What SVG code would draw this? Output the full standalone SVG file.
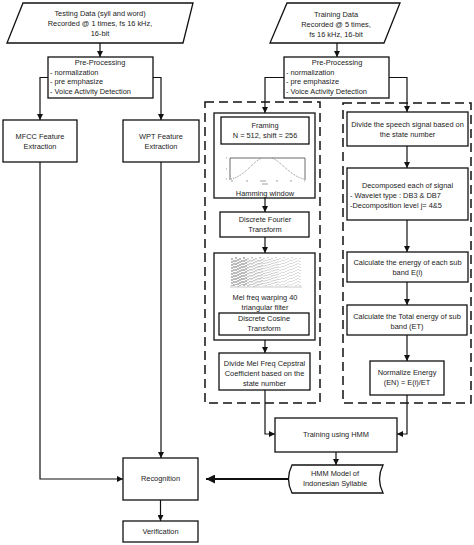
<svg xmlns="http://www.w3.org/2000/svg" width="474" height="545" viewBox="0 0 474 545">
<defs>
<style>
text{font-family:"Liberation Sans",Arial,sans-serif;font-size:7.4px;fill:#222;}
.c{text-anchor:middle;}
.box{fill:#fff;stroke:#111;stroke-width:1.3;}
.ln{fill:none;stroke:#111;stroke-width:1.2;}
.dash{fill:none;stroke:#111;stroke-width:1.5;stroke-dasharray:9,5;}
</style>
<marker id="ah" viewBox="0 0 10 10" refX="10" refY="5" markerWidth="6" markerHeight="6" markerUnits="userSpaceOnUse" orient="auto"><path d="M0,0 L10,5 L0,10 Z" fill="#111"/></marker>
<marker id="ahb" viewBox="0 0 10 10" refX="10" refY="5" markerWidth="9" markerHeight="9" markerUnits="userSpaceOnUse" orient="auto"><path d="M0,0 L10,5 L0,10 Z" fill="#111"/></marker>
</defs>

<g id="regions">
<rect class="dash" x="205" y="102" width="115" height="301"/>
<rect class="dash" x="343" y="103" width="128" height="300"/>
</g>

<g id="connectors">
<path class="ln" d="M100,43 V57" marker-end="url(#ah)"/>
<path class="ln" d="M48,77.5 H40 V120" marker-end="url(#ah)"/>
<path class="ln" d="M153,77.5 H161 V120" marker-end="url(#ah)"/>
<path class="ln" d="M40,162 V479 H123" marker-end="url(#ah)"/>
<path class="ln" d="M161,162 V458" marker-end="url(#ah)"/>
<path class="ln" d="M160.5,500 V521" marker-end="url(#ah)"/>
<path class="ln" d="M337,43 V57" marker-end="url(#ah)"/>
<path class="ln" d="M284,77.5 H265 V113" marker-end="url(#ah)"/>
<path class="ln" d="M389,77.5 H407 V112" marker-end="url(#ah)"/>
<path class="ln" d="M265,198 V212" marker-end="url(#ah)"/>
<path class="ln" d="M265,237 V253" marker-end="url(#ah)"/>
<path class="ln" d="M265,340 V353" marker-end="url(#ah)"/>
<path class="ln" d="M265,390 V434 H275" marker-end="url(#ah)"/>
<path class="ln" d="M407,146 V168" marker-end="url(#ah)"/>
<path class="ln" d="M407,220 V252" marker-end="url(#ah)"/>
<path class="ln" d="M407,282 V305" marker-end="url(#ah)"/>
<path class="ln" d="M407,335 V361" marker-end="url(#ah)"/>
<path class="ln" d="M407,395 V434 H397" marker-end="url(#ah)"/>
<path class="ln" d="M336,452 V465" marker-end="url(#ah)"/>
<path fill="none" stroke="#111" stroke-width="2" d="M288,479 H206" marker-end="url(#ahb)"/>
</g>

<g id="testing-data">
<path class="box" d="M23,3 H193 L183,43 H7 Z"/>
<text class="c" x="100" y="16">Testing Data (syll and word)</text>
<text class="c" x="100" y="26">Recorded @ 1 times, fs 16 kHz,</text>
<text class="c" x="100" y="36">16-bit</text>
</g>

<g id="preproc-test">
<rect class="box" x="48" y="57" width="105" height="41"/>
<text class="c" x="100" y="65">Pre-Processing</text>
<text x="50" y="75">- normalization</text>
<text x="50" y="84">- pre emphasize</text>
<text x="50" y="94">- Voice Activity Detection</text>
</g>

<g id="mfcc">
<rect class="box" x="3" y="120" width="74" height="42"/>
<text class="c" x="40" y="139">MFCC Feature</text>
<text class="c" x="40" y="149">Extraction</text>
</g>

<g id="wpt">
<rect class="box" x="123" y="120" width="76" height="42"/>
<text class="c" x="161" y="139">WPT Feature</text>
<text class="c" x="161" y="149">Extraction</text>
</g>

<g id="training-data">
<path class="box" d="M287,3 H400 L384,43 H270 Z"/>
<text class="c" x="336" y="17">Training Data</text>
<text class="c" x="336" y="27">Recorded @ 5 times,</text>
<text class="c" x="336" y="37">fs 16 kHz, 16-bit</text>
</g>

<g id="preproc-train">
<rect class="box" x="284" y="57" width="105" height="41"/>
<text class="c" x="337" y="65">Pre-Processing</text>
<text x="286" y="75">- normalization</text>
<text x="286" y="84">- pre emphasize</text>
<text x="286" y="94">- Voice Activity Detection</text>
</g>

<g id="framing">
<rect class="box" x="214" y="113" width="101" height="85"/>
<rect class="box" x="221" y="117" width="88" height="27"/>
<text class="c" x="265" y="128">Framing</text>
<text class="c" x="265" y="138">N = 512, shift = 256</text>
<g id="hamming-plot">
<path d="M230,180 V158 H305 V180" fill="none" stroke="#444" stroke-width="0.8"/>
<path d="M231,179 C245,176 252,162 262,158 M272,158 C282,162 290,176 304,179" fill="none" stroke="#777" stroke-width="0.8" stroke-dasharray="1,1"/>
<path d="M231,181 h2 M246,181 h2 M260,181 h6 M276,181 h2 M290,181 h2 M304,181 h1 M226,158 h1 M226,169 h1 M226,179 h1 M262,184 h6" stroke="#888" stroke-width="0.8"/>
</g>
<text class="c" x="265" y="196">Hamming window</text>
</g>

<g id="dft">
<rect class="box" x="220" y="212" width="89" height="25"/>
<text class="c" x="265" y="222">Discrete Fourier</text>
<text class="c" x="265" y="232">Transform</text>
</g>

<g id="mel">
<rect class="box" x="214" y="253" width="101" height="87"/>
<g id="spectrogram" fill="none" stroke-width="0.8">
<path d="M232,258 V286 M234,260 V287 M236,257 V285 M238,259 V287 M240,258 V286 M242,260 V285 M244,257 V287 M246,259 V286" stroke="#555" stroke-dasharray="2,1"/>
<path d="M248,258 V287 M250,260 V286 M252,257 V285 M254,259 V287 M256,258 V286 M258,260 V287 M260,257 V285 M262,259 V286" stroke="#777" stroke-dasharray="1.5,1.5"/>
<path d="M264,258 V286 M266,260 V287 M268,257 V285 M270,259 V287 M272,258 V286 M274,260 V285 M276,257 V287 M278,259 V286" stroke="#888" stroke-dasharray="1,1.5"/>
<path d="M280,258 V287 M282,260 V286 M284,257 V285 M286,259 V287 M288,258 V286 M290,260 V287 M292,257 V285 M294,259 V286 M296,258 V287 M298,260 V286 M300,258 V286" stroke="#aaa" stroke-dasharray="1,2"/>
<path d="M230,287 H302" stroke="#bbb"/>
</g>
<text class="c" x="265" y="300">Mel freq warping 40</text>
<text class="c" x="265" y="310">triangular filter</text>
<rect class="box" x="219" y="313" width="90" height="22"/>
<text class="c" x="264" y="321">Discrete Cosine</text>
<text class="c" x="264" y="331">Transform</text>
</g>

<g id="divide-mfcc">
<rect class="box" x="219" y="353" width="91" height="37"/>
<text class="c" x="264.5" y="366">Divide Mel Freq Cepstral</text>
<text class="c" x="264.5" y="376">Coefficient based on the</text>
<text class="c" x="264.5" y="386">state number</text>
</g>

<g id="divide-speech">
<rect class="box" x="347" y="112" width="121" height="34"/>
<text class="c" x="407.5" y="127">Divide the speech signal based on</text>
<text class="c" x="407.5" y="137">the state number</text>
</g>

<g id="decompose">
<rect class="box" x="347" y="168" width="121" height="52"/>
<text class="c" x="407.5" y="188">Decomposed each of signal</text>
<text x="350" y="198">- Wavelet type : DB3 &amp; DB7</text>
<text x="350" y="208">-Decomposition level j= 4&amp;5</text>
</g>

<g id="energy">
<rect class="box" x="347" y="252" width="121" height="30"/>
<text class="c" x="407.5" y="265">Calculate the energy of each sub</text>
<text class="c" x="407.5" y="275">band E(i)</text>
</g>

<g id="total-energy">
<rect class="box" x="347" y="305" width="120" height="30"/>
<text class="c" x="407" y="319">Calculate the Total energy of sub</text>
<text class="c" x="407" y="329">band (ET)</text>
</g>

<g id="normalize">
<rect class="box" x="370" y="361" width="74" height="34"/>
<text class="c" x="407" y="375">Normalize Energy</text>
<text class="c" x="407" y="385">(EN) = E(i)/ET</text>
</g>

<g id="training-hmm">
<rect class="box" x="275" y="418" width="122" height="34"/>
<text class="c" x="336" y="437">Training using HMM</text>
</g>

<g id="hmm-model">
<path class="box" d="M292,465 H383 Q376,479 383,493 H292 Q285,479 292,465 Z"/>
<text class="c" x="335" y="476">HMM Model of</text>
<text class="c" x="335" y="486">Indonesian Syllable</text>
</g>

<g id="recognition">
<rect class="box" x="123" y="458" width="75" height="42"/>
<text class="c" x="160.5" y="481">Recognition</text>
</g>

<g id="verification">
<rect class="box" x="123" y="521" width="75" height="21"/>
<text class="c" x="160.5" y="534">Verification</text>
</g>
</svg>
